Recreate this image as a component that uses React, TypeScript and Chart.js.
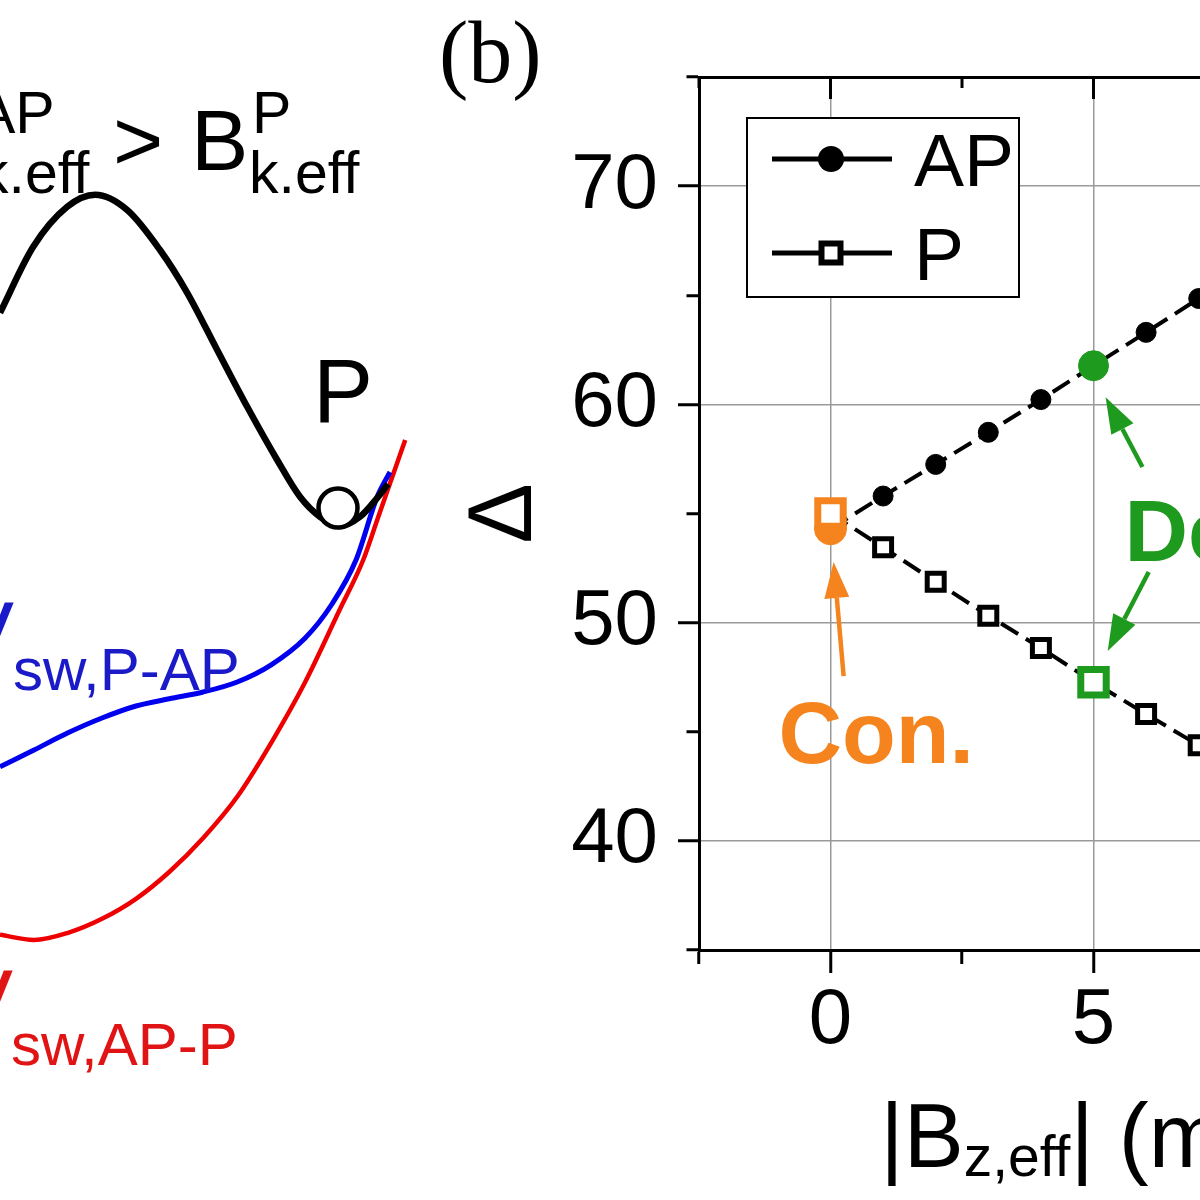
import React, { useEffect, useRef } from 'react';
import { Chart, registerables } from 'chart.js';

Chart.register(...registerables);

const SANS = "'Liberation Sans', Arial, Helvetica, sans-serif";
const SERIF = "'Liberation Serif', 'Times New Roman', Times, serif";

// ---------- Panel (b) data ----------
const FIELD_MT = [0, 1, 2, 3, 4, 5, 6, 7];
const DELTA_AP = [54.3, 55.8, 57.25, 58.72, 60.22, 61.77, 63.3, 64.85];
const DELTA_P = [55.0, 53.45, 51.87, 50.32, 48.84, 47.27, 45.81, 44.38];
const SERIES_NAMES = ['AP', 'P'];
const X_MIN = -2.5;
const X_MAX = 12.5;
const X_STEP = 2.5;
const X_LABEL_STEP = 5;
const Y_MIN = 35;
const Y_MAX = 75;
const Y_STEP = 5;
const Y_LABEL_STEP = 10;
const CON_INDEX = 0;
const DEV_INDEX = 5;
const X_TITLE = ['|B', 'z,eff', '| (mT)'];
const Y_TITLE = 'Δ';
const PANEL_LABEL = '(b)';
const CON_TEXT = 'Con.';
const DEV_TEXT = 'Dev.';

// ---------- Panel (a) schematic (energy landscape, arbitrary units) ----------
const THETA_BLACK = [0, 8.3, 16.8, 23.8, 31.8, 40, 46.8, 54.3, 61.8, 69.3, 75, 80, 85, 90, 94.3, 97];
const E_BLACK = [221.8, 238.3, 248.3, 251.3, 247.5, 237.5, 226.8, 212.5, 198.3, 185, 175.8, 170.8, 168.5, 170.8, 175.5, 179];
const THETA_BLUE = [0, 8.5, 17, 25.5, 34, 42.3, 50.8, 59.3, 67.8, 76.3, 83, 89, 94.3, 97.5];
const E_BLUE = [108.3, 112.5, 116.8, 120.5, 123.5, 125.3, 127, 129.5, 133.8, 140.5, 149, 160, 175.8, 182];
const THETA_RED = [0, 8.5, 17, 25.5, 34, 42.3, 50.8, 59.3, 67.8, 76.3, 84.8, 90.8, 94.3, 101.3];
const E_RED = [66.3, 65, 66.8, 70.3, 75.3, 82, 90.5, 100.8, 114.3, 129.5, 147.3, 160, 170, 190];
const P_STATE = { theta: 84.5, e: 173 };

const ORANGE = '#F5841F';
const GREEN = '#1E9A1E';
const GRID = '#9a9a9a';
const BLUE = '#0000EE';
const RED = '#EE0000';

const isMultiple = (v: number, step: number) => Math.abs(v / step - Math.round(v / step)) < 1e-6;
const markColor = (i: number) => (i === CON_INDEX ? ORANGE : i === DEV_INDEX ? GREEN : '#000');

function drawArrow(ctx: any, x0: number, y0: number, x1: number, y1: number, color: string) {
  const ang = Math.atan2(y1 - y0, x1 - x0);
  const headLen = 36;
  const headHalf = 12.5;
  const bx = x1 - headLen * Math.cos(ang);
  const by = y1 - headLen * Math.sin(ang);
  ctx.setLineDash([]);
  ctx.strokeStyle = color;
  ctx.lineWidth = 4.5;
  ctx.beginPath();
  ctx.moveTo(x0, y0);
  ctx.lineTo(bx, by);
  ctx.stroke();
  ctx.fillStyle = color;
  ctx.beginPath();
  ctx.moveTo(x1, y1);
  ctx.lineTo(bx - headHalf * Math.sin(ang), by + headHalf * Math.cos(ang));
  ctx.lineTo(bx + headHalf * Math.sin(ang), by - headHalf * Math.cos(ang));
  ctx.closePath();
  ctx.fill();
}

const panelBPlugin = {
  id: 'panelB',
  afterDatasetsDraw(chart: any) {
    const { ctx, chartArea: ca, scales } = chart;
    const px = (v: number) => scales.x.getPixelForValue(v);
    const py = (v: number) => scales.y.getPixelForValue(v);
    ctx.save();
    // inward ticks on the top and right frame
    ctx.setLineDash([]);
    ctx.strokeStyle = '#000';
    ctx.lineWidth = 3;
    scales.x.ticks.forEach((t: any) => {
      const len = isMultiple(t.value, X_LABEL_STEP) ? 22 : 11;
      const x = px(t.value);
      ctx.beginPath();
      ctx.moveTo(x, ca.top);
      ctx.lineTo(x, ca.top + len);
      ctx.stroke();
    });
    scales.y.ticks.forEach((t: any) => {
      const len = isMultiple(t.value, Y_LABEL_STEP) ? 21 : 11;
      const y = py(t.value);
      ctx.beginPath();
      ctx.moveTo(ca.right, y);
      ctx.lineTo(ca.right - len, y);
      ctx.stroke();
    });
    // arrows
    drawArrow(ctx, px(0.25), py(47.55), px(0.06), py(52.78), ORANGE);
    drawArrow(ctx, px(5.93), py(57.13), px(5.23), py(60.33), GREEN);
    drawArrow(ctx, px(6.05), py(52.32), px(5.27), py(48.7), GREEN);
    // annotation texts
    ctx.textAlign = 'left';
    ctx.textBaseline = 'alphabetic';
    ctx.font = `bold 88px ${SANS}`;
    ctx.fillStyle = ORANGE;
    ctx.fillText(CON_TEXT, px(-0.99), py(43.55));
    ctx.fillStyle = GREEN;
    ctx.fillText(DEV_TEXT, px(5.59), py(52.82));
    // legend
    const L = ca.left;
    const T = ca.top;
    const bx = L + 48;
    const by = T + 41;
    ctx.fillStyle = '#fff';
    ctx.fillRect(bx, by, 272, 179);
    ctx.strokeStyle = '#000';
    ctx.lineWidth = 2;
    ctx.strokeRect(bx, by, 272, 179);
    const rows = [T + 82, T + 176];
    chart.data.datasets.forEach((ds: any, i: number) => {
      const y = rows[i];
      ctx.setLineDash([]);
      ctx.strokeStyle = '#000';
      ctx.lineWidth = 5;
      ctx.beginPath();
      ctx.moveTo(L + 73, y);
      ctx.lineTo(L + 193, y);
      ctx.stroke();
      if (ds.pointStyle === 'circle') {
        ctx.fillStyle = '#000';
        ctx.beginPath();
        ctx.arc(L + 132, y, 13, 0, Math.PI * 2);
        ctx.fill();
      } else {
        ctx.fillStyle = '#fff';
        ctx.fillRect(L + 132 - 9.5, y - 9.5, 19, 19);
        ctx.lineWidth = 6;
        ctx.strokeRect(L + 132 - 9.5, y - 9.5, 19, 19);
      }
      ctx.fillStyle = '#000';
      ctx.font = `75px ${SANS}`;
      ctx.fillText(ds.label, L + 215, y + 27);
    });
    ctx.restore();
  },
  afterDraw(chart: any) {
    const { ctx, chartArea: ca } = chart;
    ctx.save();
    ctx.textAlign = 'left';
    ctx.textBaseline = 'alphabetic';
    ctx.fillStyle = '#000';
    // panel label
    ctx.font = `88px ${SERIF}`;
    ctx.fillText(PANEL_LABEL, 19, 82);
    // x title with subscript
    ctx.font = `90px ${SANS}`;
    const w1 = ctx.measureText(X_TITLE[0]).width;
    const w3 = ctx.measureText(X_TITLE[2]).width;
    ctx.font = `57px ${SANS}`;
    const w2 = ctx.measureText(X_TITLE[1]).width;
    const base = ca.bottom + 217;
    let x = (ca.left + ca.right) / 2 - (w1 + w2 + w3) / 2 + 1;
    ctx.font = `90px ${SANS}`;
    ctx.fillText(X_TITLE[0], x, base);
    x += w1;
    ctx.font = `57px ${SANS}`;
    ctx.fillText(X_TITLE[1], x, base + 9);
    x += w2;
    ctx.font = `90px ${SANS}`;
    ctx.fillText(X_TITLE[2], x, base);
    ctx.restore();
  },
};

const panelAPlugin = {
  id: 'panelA',
  afterDatasetsDraw(chart: any) {
    const ctx = chart.ctx;
    ctx.save();
    ctx.textAlign = 'left';
    ctx.textBaseline = 'alphabetic';
    ctx.fillStyle = '#000';
    // B^AP_k.eff > B^P_k.eff
    ctx.font = `86px ${SANS}`;
    ctx.fillText('B', -78, 170);
    ctx.fillText('>', 113, 170);
    ctx.fillText('B', 191, 170);
    ctx.font = `59px ${SANS}`;
    ctx.fillText('AP', -24, 133);
    ctx.fillText('k.eff', -21, 193);
    ctx.fillText('P', 252, 133);
    ctx.fillText('k.eff', 249, 193);
    // P state label
    ctx.font = `90px ${SANS}`;
    ctx.fillText('P', 313, 422);
    // V_sw,P-AP
    ctx.fillStyle = '#1A1AC8';
    ctx.font = `90px ${SANS}`;
    ctx.fillText('V', -46, 665);
    ctx.font = `60px ${SANS}`;
    ctx.fillText('sw,P-AP', 13, 690);
    // V_sw,AP-P
    ctx.fillStyle = '#E01414';
    ctx.font = `90px ${SANS}`;
    ctx.fillText('V', -47, 1033);
    ctx.font = `60px ${SANS}`;
    ctx.fillText('sw,AP-P', 11, 1065);
    ctx.restore();
  },
};

export default function App() {
  const leftRef = useRef<HTMLCanvasElement | null>(null);
  const rightRef = useRef<HTMLCanvasElement | null>(null);

  useEffect(() => {
    Chart.defaults.font.family = SANS;
    Chart.defaults.color = '#000';

    const toPts = (xs: number[], ys: number[]) => xs.map((x, i) => ({ x, y: ys[i] }));

    const left = new Chart(leftRef.current as HTMLCanvasElement, {
      type: 'line',
      data: {
        datasets: [
          {
            label: 'P state',
            data: [{ x: P_STATE.theta, y: P_STATE.e }],
            showLine: false,
            pointStyle: 'circle',
            pointRadius: 19.5,
            pointBorderWidth: 4.5,
            pointBorderColor: '#000',
            pointBackgroundColor: '#fff',
            order: 0,
          } as any,
          {
            label: 'E (K)',
            data: toPts(THETA_BLACK, E_BLACK),
            borderColor: '#000',
            borderWidth: 6.5,
            pointRadius: 0,
            cubicInterpolationMode: 'monotone',
            order: 1,
          },
          {
            label: 'E (P-AP)',
            data: toPts(THETA_BLUE, E_BLUE),
            borderColor: BLUE,
            borderWidth: 5,
            pointRadius: 0,
            cubicInterpolationMode: 'monotone',
            order: 2,
          },
          {
            label: 'E (AP-P)',
            data: toPts(THETA_RED, E_RED),
            borderColor: RED,
            borderWidth: 4.5,
            pointRadius: 0,
            cubicInterpolationMode: 'monotone',
            order: 3,
          },
        ],
      },
      options: {
        responsive: false,
        animation: false,
        events: [],
        layout: { padding: 0, autoPadding: false },
        plugins: { legend: { display: false }, tooltip: { enabled: false }, title: { display: false } },
        scales: {
          x: { type: 'linear', min: 0, max: 110, display: false },
          y: { type: 'linear', min: 0, max: 300, display: false },
        },
      },
      plugins: [panelAPlugin],
    } as any);

    const right = new Chart(rightRef.current as HTMLCanvasElement, {
      type: 'line',
      data: {
        datasets: [
          {
            label: SERIES_NAMES[0],
            data: toPts(FIELD_MT, DELTA_AP),
            borderColor: '#000',
            borderWidth: 4,
            borderDash: [20, 9],
            pointStyle: 'circle',
            pointRadius: (c: any) => (c.dataIndex === CON_INDEX ? 16 : c.dataIndex === DEV_INDEX ? 15 : 10),
            pointBackgroundColor: (c: any) => markColor(c.dataIndex),
            pointBorderColor: (c: any) => markColor(c.dataIndex),
            pointBorderWidth: 1,
            order: 2,
          } as any,
          {
            label: SERIES_NAMES[1],
            data: toPts(FIELD_MT, DELTA_P),
            borderColor: '#000',
            borderWidth: 4,
            borderDash: [20, 9],
            pointStyle: 'rect',
            pointRadius: (c: any) => (c.dataIndex === CON_INDEX || c.dataIndex === DEV_INDEX ? 18 : 12),
            pointBorderWidth: (c: any) => (c.dataIndex === CON_INDEX || c.dataIndex === DEV_INDEX ? 7 : 5),
            pointBackgroundColor: '#fff',
            pointBorderColor: (c: any) => markColor(c.dataIndex),
            order: 1,
          } as any,
        ],
      },
      options: {
        responsive: false,
        animation: false,
        events: [],
        layout: { padding: { left: 0, top: 77, right: 32, bottom: 0 }, autoPadding: false },
        plugins: { legend: { display: false }, tooltip: { enabled: false }, title: { display: false } },
        scales: {
          x: {
            type: 'linear',
            position: 'bottom',
            min: X_MIN,
            max: X_MAX,
            afterFit: (s: any) => {
              s.height = 250;
            },
            ticks: {
              stepSize: X_STEP,
              autoSkip: false,
              maxRotation: 0,
              padding: 2,
              color: '#000',
              font: { family: SANS, size: 78 },
              callback: (v: any) => (isMultiple(Number(v), X_LABEL_STEP) ? String(v) : ''),
            },
            grid: {
              color: (c: any) => (c.tick && isMultiple(c.tick.value, X_LABEL_STEP) ? GRID : 'rgba(0,0,0,0)'),
              lineWidth: 1.5,
              tickLength: 23,
              tickWidth: 3,
              tickColor: '#000',
              tickBorderDash: (c: any) => (c.tick && isMultiple(c.tick.value, X_LABEL_STEP) ? [] : [12, 1000]),
            },
            border: { display: true, color: '#000', width: 3 },
          },
          x2: {
            type: 'linear',
            position: 'top',
            min: X_MIN,
            max: X_MAX,
            afterFit: (s: any) => {
              s.height = 0;
            },
            ticks: { display: false, stepSize: X_STEP, autoSkip: false },
            grid: { drawOnChartArea: false, drawTicks: false },
            border: { display: true, color: '#000', width: 3 },
          },
          y: {
            type: 'linear',
            position: 'left',
            min: Y_MIN,
            max: Y_MAX,
            afterFit: (s: any) => {
              s.width = 279;
            },
            ticks: {
              stepSize: Y_STEP,
              autoSkip: false,
              padding: 20,
              color: '#000',
              font: { family: SANS, size: 78 },
              callback: (v: any) => (isMultiple(Number(v), Y_LABEL_STEP) ? String(v) : ''),
            },
            grid: {
              color: (c: any) => (c.tick && isMultiple(c.tick.value, Y_LABEL_STEP) ? GRID : 'rgba(0,0,0,0)'),
              lineWidth: 1.5,
              tickLength: 21,
              tickWidth: 3,
              tickColor: '#000',
              tickBorderDash: (c: any) => (c.tick && isMultiple(c.tick.value, Y_LABEL_STEP) ? [] : [0, 8.5, 12, 1000]),
            },
            border: { display: true, color: '#000', width: 3 },
            title: {
              display: true,
              text: Y_TITLE,
              color: '#000',
              font: { family: SANS, size: 90 },
              padding: { top: 32, bottom: 0 },
            },
          },
          y2: {
            type: 'linear',
            position: 'right',
            min: Y_MIN,
            max: Y_MAX,
            afterFit: (s: any) => {
              s.width = 0;
            },
            ticks: { display: false, stepSize: Y_STEP, autoSkip: false },
            grid: { drawOnChartArea: false, drawTicks: false },
            border: { display: true, color: '#000', width: 3 },
          },
        },
      },
      plugins: [panelBPlugin],
    } as any);

    return () => {
      left.destroy();
      right.destroy();
    };
  }, []);

  return (
    <div
      style={{
        position: 'fixed',
        left: 0,
        top: 0,
        width: 1200,
        height: 1200,
        overflow: 'hidden',
        background: '#fff',
      }}
    >
      <canvas
        ref={rightRef}
        width={1100}
        height={1200}
        style={{ position: 'absolute', left: 420, top: 0, width: 1100, height: 1200, display: 'block' }}
      />
      <canvas
        ref={leftRef}
        width={440}
        height={1200}
        style={{ position: 'absolute', left: 0, top: 0, width: 440, height: 1200, display: 'block' }}
      />
    </div>
  );
}
